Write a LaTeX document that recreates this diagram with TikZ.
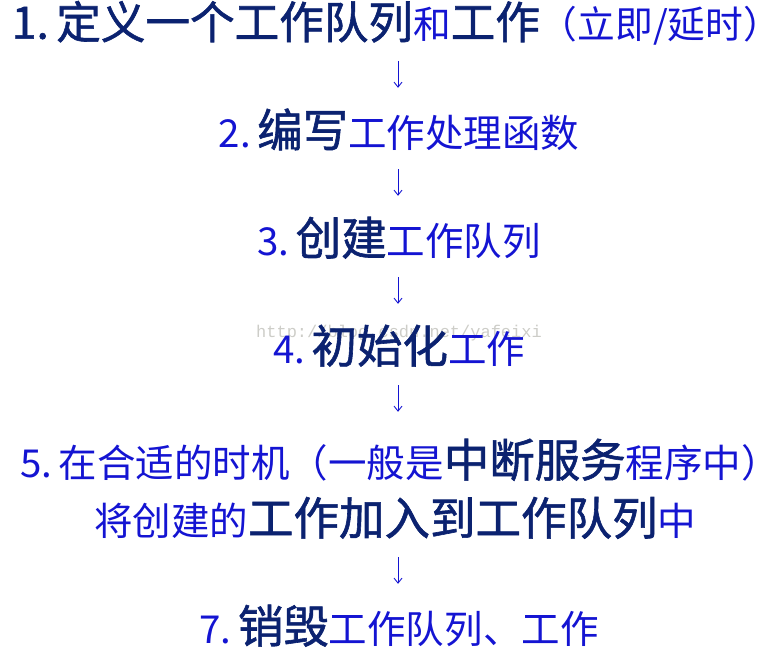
\documentclass[tikz,border=0pt]{standalone}
\usepackage{fontspec}
\setmainfont{Noto Sans CJK SC}
\newfontfamily\heavyfont{Noto Sans CJK SC}[FakeBold=1.3]
\newfontfamily\wmfont{Liberation Mono}
\usetikzlibrary{arrows.meta}

\definecolor{navy}{HTML}{0B2270}
\definecolor{stepblue}{HTML}{1414D2}
\definecolor{wmgray}{HTML}{CDCDC8}

% big dark characters and smaller blue ones
\newcommand\bigc[1]{{\heavyfont\fontsize{45.5}{50}\selectfont\color{navy}#1}}
\newcommand\smc[1]{{\fontsize{38.5}{44}\selectfont\color{stepblue}#1}}

\tikzset{
  stepline/.style={inner sep=0pt, text height=34pt, text depth=4pt},
  nextarrow/.style={stepblue, line width=0.9pt, -{Straight Barb[length=5pt, width=8pt]},
    shorten <=18pt, shorten >=25pt}
}

\begin{document}
\begin{tikzpicture}[x=1pt, y=-1pt]
    \useasboundingbox (0,0) rectangle (783,649);

    % Watermark
    \node[font=\wmfont\fontsize{17}{20}\selectfont, text=wmgray] (wm) at (399,333) {http://blog.csdn.net/yafeixi};

    % Steps
    \node[stepline, scale=0.98] (s1) at (387,24) {\bigc{1.\,定义一个工作队列}\smc{和}\bigc{工作}\smc{（立即/延时）\kern-0.5em}};
    \node[stepline] (s2) at (399,132) {\smc{2.\,}\bigc{编写}\smc{工作处理函数}};
    \node[stepline] (s3) at (399,240) {\smc{3.\,}\bigc{创建}\smc{工作队列}};
    \node[stepline] (s4) at (399,348) {\smc{4.\,}\bigc{初始化}\smc{工作}};
    \node[stepline] (s5) at (400,462) {\smc{5.\,在合适的时机（一般是}\bigc{中断服务}\smc{程序中）}};
    \node[stepline] (s6) at (395,520) {\smc{将创建的}\bigc{工作加入到工作队列}\smc{中}};
    \node[stepline] (s7) at (399,628) {\smc{7.\,}\bigc{销毁}\smc{工作队列、工作}};

    % Arrows between the steps
    \draw[nextarrow] (s1.south -| 398,0) -- (s2.north -| 398,0);
    \draw[nextarrow] (s2.south -| 398,0) -- (s3.north -| 398,0);
    \draw[nextarrow] (s3.south -| 398,0) -- (s4.north -| 398,0);
    \draw[nextarrow, shorten >=31pt] (s4.south -| 398,0) -- (s5.north -| 398,0);
    \draw[nextarrow] (s6.south -| 398,0) -- (s7.north -| 398,0);
\end{tikzpicture}
\end{document}
